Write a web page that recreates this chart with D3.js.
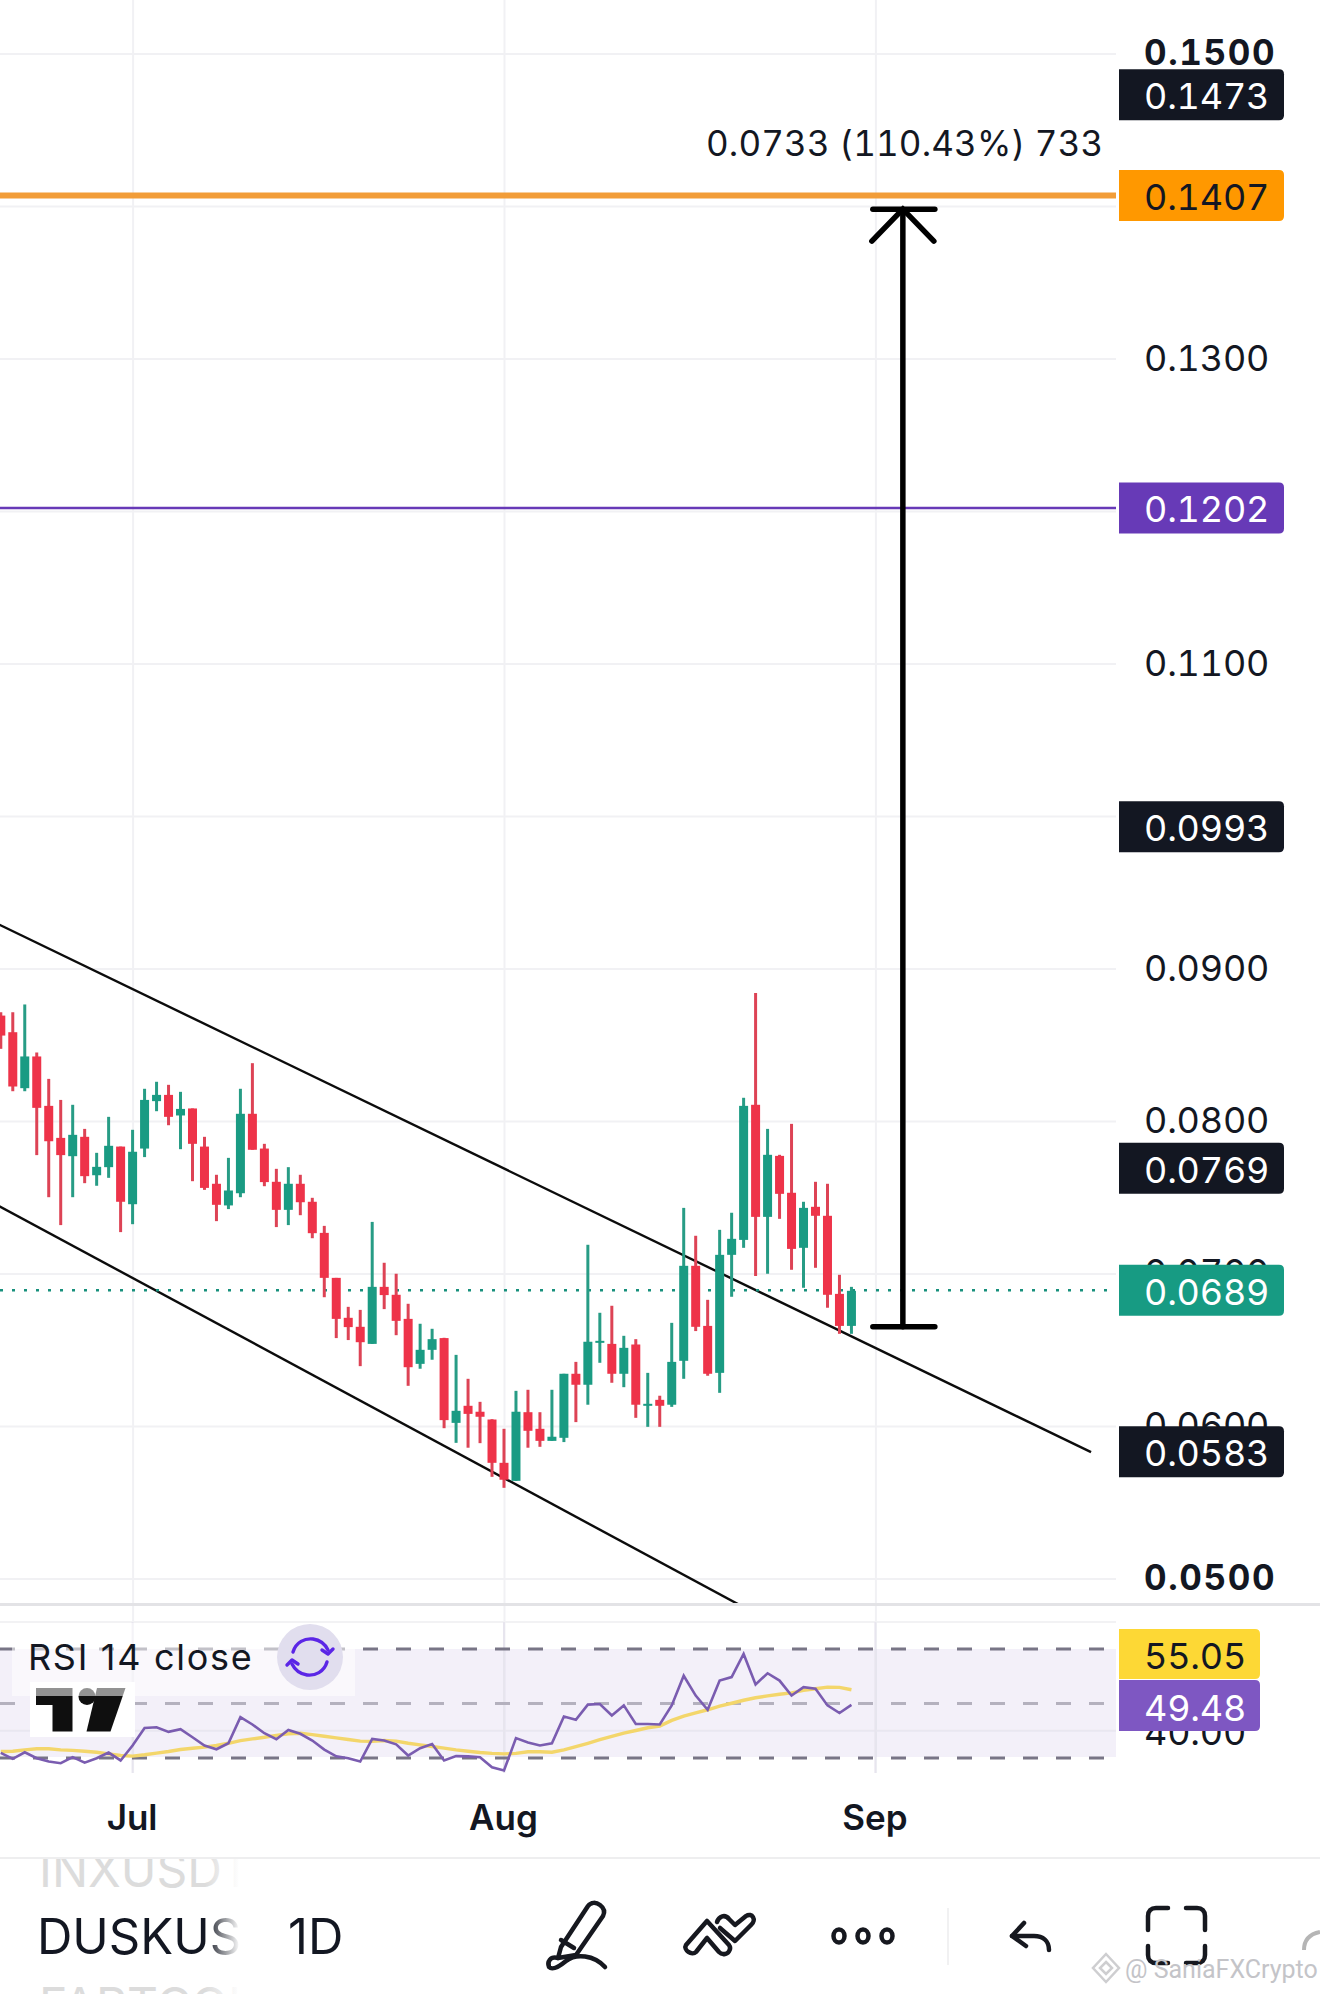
<!DOCTYPE html>
<html>
<head>
<meta charset="utf-8">
<title>DUSKUSDT 1D</title>
<script src="https://d3js.org/d3.v7.min.js"></script>
<style>
  html, body { margin: 0; padding: 0; background: #fff; }
  svg { display: block; font-family: Inter, "Noto Sans", sans-serif; font-variant-numeric: tabular-nums; }
</style>
</head>
<body>
<div id="chart"></div>
<script>
// daily candles, first one is 20 Jun, last one 30 Aug
const firstDay = new Date(Date.UTC(2025, 5, 20));

const candleHigh = [
  .08713,.08713,.08764,.08449,.08276,.08138,.08106,.07948,.07791,.08027,
  .07832,.07942,.08211,.08257,.08237,.08191,.08082,.07896,.07647,.07758,
  .08211,.08379,.07850,.07686,.07697,.07647,.07496,.07312,.06971,.06781,
  .06761,.07338,.07070,.06998,.06801,.06670,.06637,.06578,.06466,.06309,
  .06158,.06044,.05981,.06230,.06237,.06090,.06237,.06342,.06420,.07188,
  .06742,.06788,.06591,.06569,.06348,.06198,.06676,.07430,.07247,.06827,
  .07286,.07398,.08152,.08840,.07948,.07778,.07981,.07470,.07601,.07588,
  .06991,.06912];
const candleLow = [
  .08473,.08195,.08195,.07776,.07500,.07317,.07500,.07592,.07575,.07627,
  .07271,.07323,.07763,.08064,.07972,.07815,.07605,.07548,.07343,.07422,
  .07500,.07811,.07572,.07304,.07317,.07382,.07231,.06844,.06576,.06563,
  .06392,.06538,.06766,.06595,.06263,.06375,.06434,.05985,.05889,.05857,
  .05887,.05666,.05594,.05640,.05857,.05863,.05902,.05894,.06025,.06139,
  .06414,.06283,.06254,.06053,.05994,.05994,.06125,.06309,.06622,.06329,
  .06217,.06847,.07168,.06984,.06998,.07358,.07024,.06906,.07037,.06775,
  .06604,.06604];
const candleOpen = [
  .08691,.08582,.08215,.08423,.08099,.07889,.07769,.07896,.07644,.07697,
  .07832,.07454,.07819,.08130,.08171,.08036,.08082,.07832,.07588,.07446,
  .07526,.08047,.07819,.07601,.07417,.07588,.07470,.07266,.06971,.06709,
  .06650,.06538,.06912,.06860,.06702,.06407,.06499,.06576,.06020,.06132,
  .06093,.06042,.05758,.05640,.06090,.05981,.05902,.05922,.06342,.06270,
  .06545,.06538,.06342,.06534,.06132,.06171,.06139,.06427,.07050,.06656,
  .06348,.07122,.07220,.08106,.07371,.07771,.07529,.07168,.07437,.07378,
  .06866,.06656];
const candleClose = [
  .08560,.08226,.08423,.08086,.07867,.07776,.07909,.07638,.07699,.07837,
  .07470,.07798,.08138,.08171,.08027,.08079,.07850,.07561,.07450,.07544,
  .08047,.07811,.07599,.07417,.07588,.07467,.07264,.06971,.06702,.06648,
  .06549,.06912,.06858,.06689,.06385,.06499,.06569,.06038,.06099,.06079,
  .06060,.05758,.05647,.06093,.05968,.05902,.05929,.06342,.06270,.06552,
  .06558,.06342,.06512,.06139,.06145,.06132,.06420,.07050,.06650,.06342,
  .07122,.07227,.08099,.07371,.07778,.07522,.07161,.07430,.07378,.06860,
  .06656,.06886];

const rsiValues = [
  31.9,29.7,32.1,29.9,28.7,28.1,30.3,28.3,29.9,32.0,
  29.1,34.6,41.0,41.3,39.6,40.6,37.6,34.6,33.2,35.4,
  45.0,42.3,39.1,36.9,40.3,38.9,36.4,33.1,30.6,29.9,
  28.7,37.0,36.4,35.0,30.9,33.6,35.1,29.1,30.7,30.6,
  30.3,26.6,25.4,37.3,35.7,34.6,35.4,45.2,44.0,49.6,
  49.8,45.6,49.3,42.5,42.5,42.3,49.3,60.2,52.9,47.7,
  58.4,59.7,68.2,57.0,61.1,58.4,52.9,56.0,55.4,49.3,
  46.5,49.48];
const rsiAverage = [
  32.4,32.5,33.0,33.4,33.4,33.0,32.8,32.5,32.1,31.5,
  30.9,30.7,31.2,31.8,32.4,33.1,33.6,34.0,34.6,35.4,
  36.4,37.0,37.6,38.3,38.9,39.1,38.6,38.0,37.4,36.8,
  36.2,36.1,36.4,36.2,35.4,34.8,34.2,33.6,33.0,32.5,
  32.0,31.7,31.5,31.7,32.3,32.3,32.1,33.0,34.2,35.4,
  36.7,37.9,39.1,40.1,41.1,41.7,43.8,45.4,46.6,47.7,
  49.0,50.1,51.2,52.1,52.8,53.4,53.9,54.8,55.4,56.0,
  55.9,55.05];

const priceTicks = [0.15, 0.14, 0.13, 0.12, 0.11, 0.10, 0.09, 0.08, 0.07, 0.06, 0.05];
const boldPriceTicks = [0.15, 0.05];
const monthTicks = [new Date(Date.UTC(2025, 6, 1)), new Date(Date.UTC(2025, 7, 1)), new Date(Date.UTC(2025, 8, 1))];

const channelUpper = [[new Date(Date.UTC(2025, 5, 10)), 0.09662], [new Date(Date.UTC(2025, 8, 19)), 0.05828]];
const channelLower = [[new Date(Date.UTC(2025, 5, 10)), 0.07859], [new Date(Date.UTC(2025, 8, 1)), 0.04346]];

const targetLevel = 0.1407;
const resistLevel = 0.1202;
const lastPrice = 0.0689;
const measureDay = new Date(Date.UTC(2025, 8, 3, 7));
const measureFrom = 0.0665;
const measureTo = 0.1398;

const priceLabels = [0.1473, 0.1407, 0.1202, 0.0993, 0.0769, 0.0689, 0.0583];
const priceLabelFill = ["#131722", "#ff9800", "#673ab7", "#131722", "#131722", "#179b83", "#131722"];
const priceLabelText = ["#fff", "#131722", "#fff", "#fff", "#fff", "#fff", "#fff"];

const dark = "#131722";
const paneRight = 1116;

const svg = d3.select("#chart").append("svg")
  .attr("width", 1320)
  .attr("height", 1994)
  .attr("viewBox", "0 0 1320 1994");

const x = d3.scaleUtc()
  .domain([firstDay, monthTicks[2]])
  .range([0.8, 875.4]);
const y = d3.scaleLinear()
  .domain([0.05, 0.15])
  .range([1578.4, 53.6]);
const yRsi = d3.scaleLinear()
  .domain([30, 70])
  .range([1758, 1649]);

const candles = candleOpen.map((open, i) => ({
  day: d3.utcDay.offset(firstDay, i),
  open: open,
  close: candleClose[i],
  high: candleHigh[i],
  low: candleLow[i]
}));

const defs = svg.append("defs");
defs.append("clipPath").attr("id", "pricePane").append("rect")
  .attr("width", paneRight).attr("height", 1603);
defs.append("clipPath").attr("id", "listPane").append("rect")
  .attr("y", 1859).attr("width", 280).attr("height", 135);
const fade = defs.append("linearGradient").attr("id", "fade");
fade.append("stop").attr("offset", 0).attr("stop-color", "#fff").attr("stop-opacity", 0);
fade.append("stop").attr("offset", 1).attr("stop-color", "#fff").attr("stop-opacity", 1);

// ---- grid
const monthGrid = svg.append("g")
  .attr("transform", "translate(0,1773)")
  .call(d3.axisBottom(x).tickValues(monthTicks).tickSize(-1773).tickFormat(""));
monthGrid.select(".domain").remove();
monthGrid.selectAll("line").attr("stroke", "#f1f1f4").attr("stroke-width", 2);

const priceGrid = svg.append("g")
  .call(d3.axisLeft(y).tickValues(priceTicks).tickSize(-paneRight).tickFormat(""));
priceGrid.select(".domain").remove();
priceGrid.selectAll("line").attr("stroke", "#f1f1f4").attr("stroke-width", 2);

// ---- price axis text, the value labels go over it later
const priceAxis = svg.append("g")
  .attr("transform", "translate(1144,0)")
  .call(d3.axisRight(y).tickValues(priceTicks).tickSize(0).tickPadding(0).tickFormat(d3.format(".4f")));
priceAxis.select(".domain").remove();
priceAxis.selectAll("text")
  .attr("fill", dark)
  .attr("font-size", d => boldPriceTicks.includes(d) ? 35 : 36)
  .attr("font-family", "Inter")
  .attr("font-weight", d => boldPriceTicks.includes(d) ? 700 : 400)
  .attr("letter-spacing", d => boldPriceTicks.includes(d) ? 1.6 : -0.2);

// ---- price pane
const pricePane = svg.append("g").attr("clip-path", "url(#pricePane)");

const line = d3.line().x(d => x(d[0])).y(d => y(d[1]));
[channelUpper, channelLower].forEach(c => {
  pricePane.append("path")
    .attr("d", line(c))
    .attr("fill", "none")
    .attr("stroke", "#0c0c0c")
    .attr("stroke-width", 2.4);
});

pricePane.append("line")
  .attr("x1", 0).attr("x2", 1108)
  .attr("y1", y(lastPrice)).attr("y2", y(lastPrice))
  .attr("stroke", "#17907c")
  .attr("stroke-width", 2.5)
  .attr("stroke-dasharray", "3 9");

pricePane.selectAll(".wick").data(candles).enter().append("line")
  .attr("class", "wick")
  .attr("x1", d => x(d.day)).attr("x2", d => x(d.day))
  .attr("y1", d => y(d.high)).attr("y2", d => y(d.low))
  .attr("stroke", d => d.close >= d.open ? "#279c85" : "#dd4355")
  .attr("stroke-width", 3);
pricePane.selectAll(".body").data(candles).enter().append("rect")
  .attr("class", "body")
  .attr("x", d => x(d.day) - 4.5)
  .attr("width", 9)
  .attr("y", d => y(Math.max(d.open, d.close)))
  .attr("height", d => Math.max(2, Math.abs(y(d.open) - y(d.close))))
  .attr("fill", d => d.close >= d.open ? "#1a9b83" : "#ee3349");

pricePane.append("line")
  .attr("x1", 0).attr("x2", paneRight)
  .attr("y1", y(resistLevel)).attr("y2", y(resistLevel))
  .attr("stroke", "#673ab7").attr("stroke-width", 2.5);
pricePane.append("line")
  .attr("x1", 0).attr("x2", paneRight)
  .attr("y1", y(targetLevel)).attr("y2", y(targetLevel))
  .attr("stroke", "#f29d38").attr("stroke-width", 6);

// measure arrow
const arrowX = x(measureDay);
const arrow = pricePane.append("g")
  .attr("fill", "none")
  .attr("stroke", "#000")
  .attr("stroke-width", 5.5)
  .attr("stroke-linecap", "round");
arrow.append("line")
  .attr("x1", arrowX).attr("x2", arrowX)
  .attr("y1", y(measureFrom)).attr("y2", y(measureTo));
[measureFrom, measureTo].forEach(v => {
  arrow.append("line")
    .attr("x1", arrowX - 30).attr("x2", arrowX + 32)
    .attr("y1", y(v)).attr("y2", y(v));
});
arrow.append("path")
  .attr("d", d3.line()([[arrowX - 31, y(measureTo) + 32], [arrowX, y(measureTo)], [arrowX + 31, y(measureTo) + 32]]));

svg.append("text")
  .attr("x", 706).attr("y", 156)
  .attr("fill", dark)
  .attr("font-size", 35)
  .attr("letter-spacing", 0.15)
  .text("0.0733 (110.43%) 733");

// ---- value labels on the price scale
function flagPath(x0, x1, y0, y1, r) {
  return `M${x0},${y0}H${x1 - r}Q${x1},${y0} ${x1},${y0 + r}V${y1 - r}Q${x1},${y1} ${x1 - r},${y1}H${x0}Z`;
}
priceLabels.forEach((v, i) => {
  const cy = y(v);
  svg.append("path")
    .attr("d", flagPath(1119, 1284, cy - 25.5, cy + 25.5, 5))
    .attr("fill", priceLabelFill[i]);
  svg.append("text")
    .attr("x", 1144).attr("y", cy)
    .attr("dy", "0.4em")
    .attr("fill", priceLabelText[i])
    .attr("font-size", 36)
    .attr("letter-spacing", -0.2)
    .text(d3.format(".4f")(v));
});

// ---- divider
svg.append("line").attr("x1", 0).attr("x2", 1320).attr("y1", 1604.5).attr("y2", 1604.5)
  .attr("stroke", "#e3e3e6").attr("stroke-width", 3);
svg.append("line").attr("x1", 0).attr("x2", paneRight).attr("y1", 1622).attr("y2", 1622)
  .attr("stroke", "#f2f2f4").attr("stroke-width", 2);

// ---- RSI pane
svg.append("text")
  .attr("x", 1144).attr("y", yRsi(40))
  .attr("dy", "0.4em")
  .attr("fill", dark)
  .attr("font-size", 36)
  .attr("letter-spacing", -0.2)
  .text("40.00");

svg.append("rect")
  .attr("x", 0).attr("width", paneRight)
  .attr("y", yRsi(70)).attr("height", yRsi(30) - yRsi(70) - 1)
  .attr("fill", "#7e57c2").attr("fill-opacity", 0.09);
svg.append("line").attr("x1", 0).attr("x2", paneRight)
  .attr("y1", yRsi(40)).attr("y2", yRsi(40))
  .attr("stroke", "#e9e7f0").attr("stroke-width", 2);
// the time grid shows through the band
svg.selectAll(".rsiGrid").data(monthTicks).enter().append("line")
  .attr("x1", d => x(d)).attr("x2", d => x(d))
  .attr("y1", 1622).attr("y2", 1773)
  .attr("stroke", "#e7e5ee").attr("stroke-width", 2);

[[70, "#787586"], [50, "#b4b1be"], [30, "#787586"]].forEach(d => {
  svg.append("line")
    .attr("x1", 0).attr("x2", 1106)
    .attr("y1", yRsi(d[0])).attr("y2", yRsi(d[0]))
    .attr("stroke", d[1])
    .attr("stroke-width", 3)
    .attr("stroke-dasharray", "15 18");
});

// logo sits under the legend veil
svg.append("rect")
  .attr("x", 30).attr("y", 1682).attr("width", 105).attr("height", 55)
  .attr("fill", "#fff");
const logo = svg.append("g").attr("fill", "#0f0f0f");
logo.append("path").attr("d", "M36,1688H72.5V1731.5H52.5V1705H36Z");
logo.append("circle").attr("cx", 87).attr("cy", 1696.5).attr("r", 8.5);
logo.append("path").attr("d", "M97,1688H125.5L110.5,1731.5H86.5Z");

const rsiLine = d3.line().x((d, i) => x(candles[i].day)).y(d => yRsi(d));
svg.append("path").datum(rsiAverage)
  .attr("d", rsiLine)
  .attr("fill", "none")
  .attr("stroke", "#f3d66b")
  .attr("stroke-width", 3.4);
svg.append("path").datum(rsiValues)
  .attr("d", rsiLine)
  .attr("fill", "none")
  .attr("stroke", "#7a5cb0")
  .attr("stroke-width", 2.6);

// legend
svg.append("rect")
  .attr("x", 12).attr("y", 1623).attr("width", 343).attr("height", 73)
  .attr("fill", "#fff").attr("fill-opacity", 0.55);
svg.append("text")
  .attr("x", 28).attr("y", 1670)
  .attr("fill", dark)
  .attr("font-size", 36)
  .attr("letter-spacing", 1.7)
  .style("font-variant-numeric", "normal")
  .text("RSI 14 close");
svg.append("circle").attr("cx", 310).attr("cy", 1657).attr("r", 33).attr("fill", "#e1deee");
const swap = svg.append("g")
  .attr("fill", "none").attr("stroke", "#5b26e6").attr("stroke-width", 3.4)
  .attr("stroke-linecap", "round").attr("stroke-linejoin", "round");
swap.append("path").attr("d", "M293,1652C296,1642 305,1638 313,1639C320,1640 325,1644 328,1650");
swap.append("path").attr("d", "M333,1649L328,1654L322,1650");
swap.append("path").attr("d", "M327,1662C324,1672 315,1676 307,1675C300,1674 295,1670 292,1664");
swap.append("path").attr("d", "M287,1665L292,1660L298,1664");

// RSI labels
const rsiFlags = [[1629, 1679, "#fdd835", dark, rsiAverage[71]], [1680, 1731, "#7e57c2", "#fff", rsiValues[71]]];
rsiFlags.forEach(f => {
  svg.append("path").attr("d", flagPath(1119, 1260, f[0], f[1], 5)).attr("fill", f[2]);
  svg.append("text")
    .attr("x", 1144).attr("y", (f[0] + f[1]) / 2)
    .attr("dy", "0.42em")
    .attr("fill", f[3])
    .attr("font-size", 36)
    .attr("letter-spacing", -0.2)
    .text(d3.format(".2f")(f[4]));
});

// ---- time axis
const timeAxis = svg.append("g")
  .attr("transform", "translate(-1,1830)")
  .call(d3.axisBottom(x).tickValues(monthTicks).tickSize(0).tickPadding(0).tickFormat(d3.utcFormat("%b")));
timeAxis.select(".domain").remove();
timeAxis.selectAll("text")
  .attr("y", 0).attr("dy", 0)
  .attr("fill", dark)
  .attr("font-size", 35)
  .attr("font-family", "Inter")
  .attr("font-weight", 600);
svg.append("line").attr("x1", 0).attr("x2", 1320).attr("y1", 1858).attr("y2", 1858)
  .attr("stroke", "#e8e8ea").attr("stroke-width", 1.5);

// ---- bottom toolbar
const list = svg.append("g").attr("clip-path", "url(#listPane)");
list.append("text").attr("x", 39).attr("y", 1887).attr("fill", "#dcdcdc").attr("font-size", 48).text("INXUSDT");
list.append("text").attr("x", 37).attr("y", 1954).attr("fill", dark).attr("font-size", 49).text("DUSKUSDT");
list.append("text").attr("x", 39).attr("y", 2022).attr("fill", "#dcdcdc").attr("font-size", 48).text("FARTCOIN");
svg.append("rect").attr("x", 205).attr("y", 1859).attr("width", 35).attr("height", 135).attr("fill", "url(#fade)");
svg.append("rect").attr("x", 240).attr("y", 1859).attr("width", 40).attr("height", 135).attr("fill", "#fff");
svg.append("text").attr("x", 288).attr("y", 1954).attr("fill", dark).attr("font-size", 49)
  .style("font-variant-numeric", "normal").text("1D");

const tools = svg.append("g")
  .attr("fill", "none").attr("stroke", "#16181f").attr("stroke-width", 4.5)
  .attr("stroke-linecap", "round").attr("stroke-linejoin", "round");
// pen
tools.append("path").attr("d", "M561,1947L588,1906C591,1902 596,1902 600,1905C604,1908 605,1912 603,1916L576,1955L558,1958Z");
tools.append("path").attr("d", "M561,1940L574,1948");
tools.append("path").attr("d", "M558,1958C550,1956 547,1962 549,1967C553,1971 560,1966 566,1961C576,1953 594,1955 605,1967");
// lines tool
tools.append("path").attr("d", "M686,1945L707,1921L729,1945C732,1949 728,1955 723,1954C721,1954 720,1953 719,1952L707,1938L696,1952C692,1956 683,1950 686,1945Z");
tools.append("path").attr("d", "M717,1922C719,1916 725,1914 729,1919L735,1925L746,1916C752,1912 757,1920 751,1925L735,1941L720,1928");
// dots
[839, 863, 887].forEach(cx => {
  tools.append("ellipse").attr("cx", cx).attr("cy", 1936).attr("rx", 5.5).attr("ry", 6.5);
});
svg.append("line").attr("x1", 948).attr("x2", 948).attr("y1", 1908).attr("y2", 1965)
  .attr("stroke", "#ececee").attr("stroke-width", 1.5);
// undo
tools.append("path").attr("d", "M1024,1923L1012,1936L1026,1946");
tools.append("path").attr("d", "M1012,1936H1034C1043,1936 1049,1941 1049,1950");
// full screen
tools.append("path").attr("d", "M1148,1930V1916C1148,1911 1151,1908 1156,1908H1168");
tools.append("path").attr("d", "M1186,1908H1197C1202,1908 1205,1911 1205,1916V1930");
tools.append("path").attr("d", "M1148,1946V1955C1148,1960 1151,1963 1156,1963H1168");
tools.append("path").attr("d", "M1186,1963H1197C1202,1963 1205,1960 1205,1955V1946");
svg.append("path").attr("d", "M1304,1950C1304,1940 1310,1934 1320,1932")
  .attr("fill", "none").attr("stroke", "#b5b5b5").attr("stroke-width", 4);

// ---- watermark
const mark = svg.append("g").attr("fill", "none").attr("stroke", "#c9c9cc").attr("stroke-width", 2.5).attr("opacity", 0.9);
mark.append("path").attr("d", "M1106,1954L1119,1968L1106,1982L1093,1968Z");
mark.append("path").attr("d", "M1106,1962L1112,1968L1106,1974L1100,1968Z");
svg.append("text")
  .attr("x", 1125).attr("y", 1978)
  .attr("fill", "#c4c4c8")
  .attr("font-size", 25)
  .attr("font-family", "Roboto")
  .text("@ SaniaFXCrypto");
</script>
</body>
</html>
